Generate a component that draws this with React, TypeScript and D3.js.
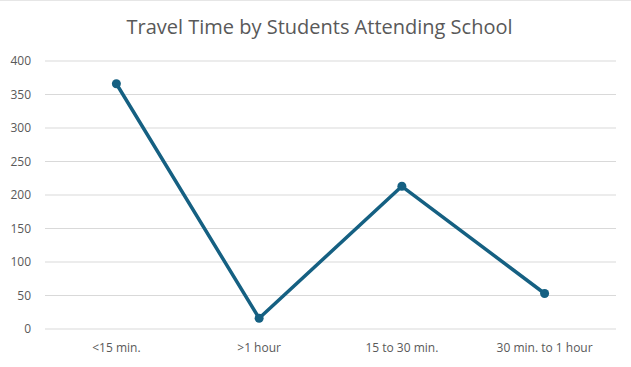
import React from "react";
import * as d3 from "d3";

const categories = ["<15 min.", ">1 hour", "15 to 30 min.", "30 min. to 1 hour"];
const values = [366, 16, 213, 53];
const yTicks = [0, 50, 100, 150, 200, 250, 300, 350, 400];
const title = "Travel Time by Students Attending School";

const W = 631;
const H = 367;
const M = { left: 45, right: 15, top: 61, bottom: 38 };

export default function App() {
  const x = d3
    .scaleBand<string>()
    .domain(categories)
    .range([M.left, W - M.right])
    .padding(0);
  const y = d3.scaleLinear().domain([0, 400]).range([H - M.bottom, M.top]);
  const cx = (c: string) => (x(c) ?? 0) + x.bandwidth() / 2;
  const line = d3
    .line<number>()
    .x((_, i) => cx(categories[i]))
    .y((d) => y(d));
  const font = "'Open Sans', 'Liberation Sans', sans-serif";
  return (
    <svg
      width={W}
      height={H}
      style={{ position: "absolute", left: 0, top: 0, background: "#fff" }}
      fontFamily={font}
    >
      <rect x={0} y={0} width={W} height={H} fill="#fff" />
      <line x1={0} x2={W} y1={0.5} y2={0.5} stroke="#e6e6e6" />
      <text x={W / 2 + 4} y={34} textAnchor="middle" fontSize={20} fill="#595959">
        {title}
      </text>
      {yTicks.map((t) => (
        <g key={t}>
          <line x1={M.left} x2={W - M.right} y1={y(t)} y2={y(t)} stroke="#d9d9d9" strokeWidth={1} />
          <text x={31} y={y(t)} dy="0.35em" textAnchor="end" fontSize={12} fill="#595959">
            {t}
          </text>
        </g>
      ))}
      {categories.map((c) => (
        <text key={c} x={cx(c)} y={H - 15} textAnchor="middle" fontSize={12} fill="#595959">
          {c}
        </text>
      ))}
      <path d={line(values) ?? ""} fill="none" stroke="#156082" strokeWidth={3.5} strokeLinejoin="round" strokeLinecap="round" />
      {values.map((v, i) => (
        <circle key={i} cx={cx(categories[i])} cy={y(v)} r={4.5} fill="#156082" />
      ))}
    </svg>
  );
}
